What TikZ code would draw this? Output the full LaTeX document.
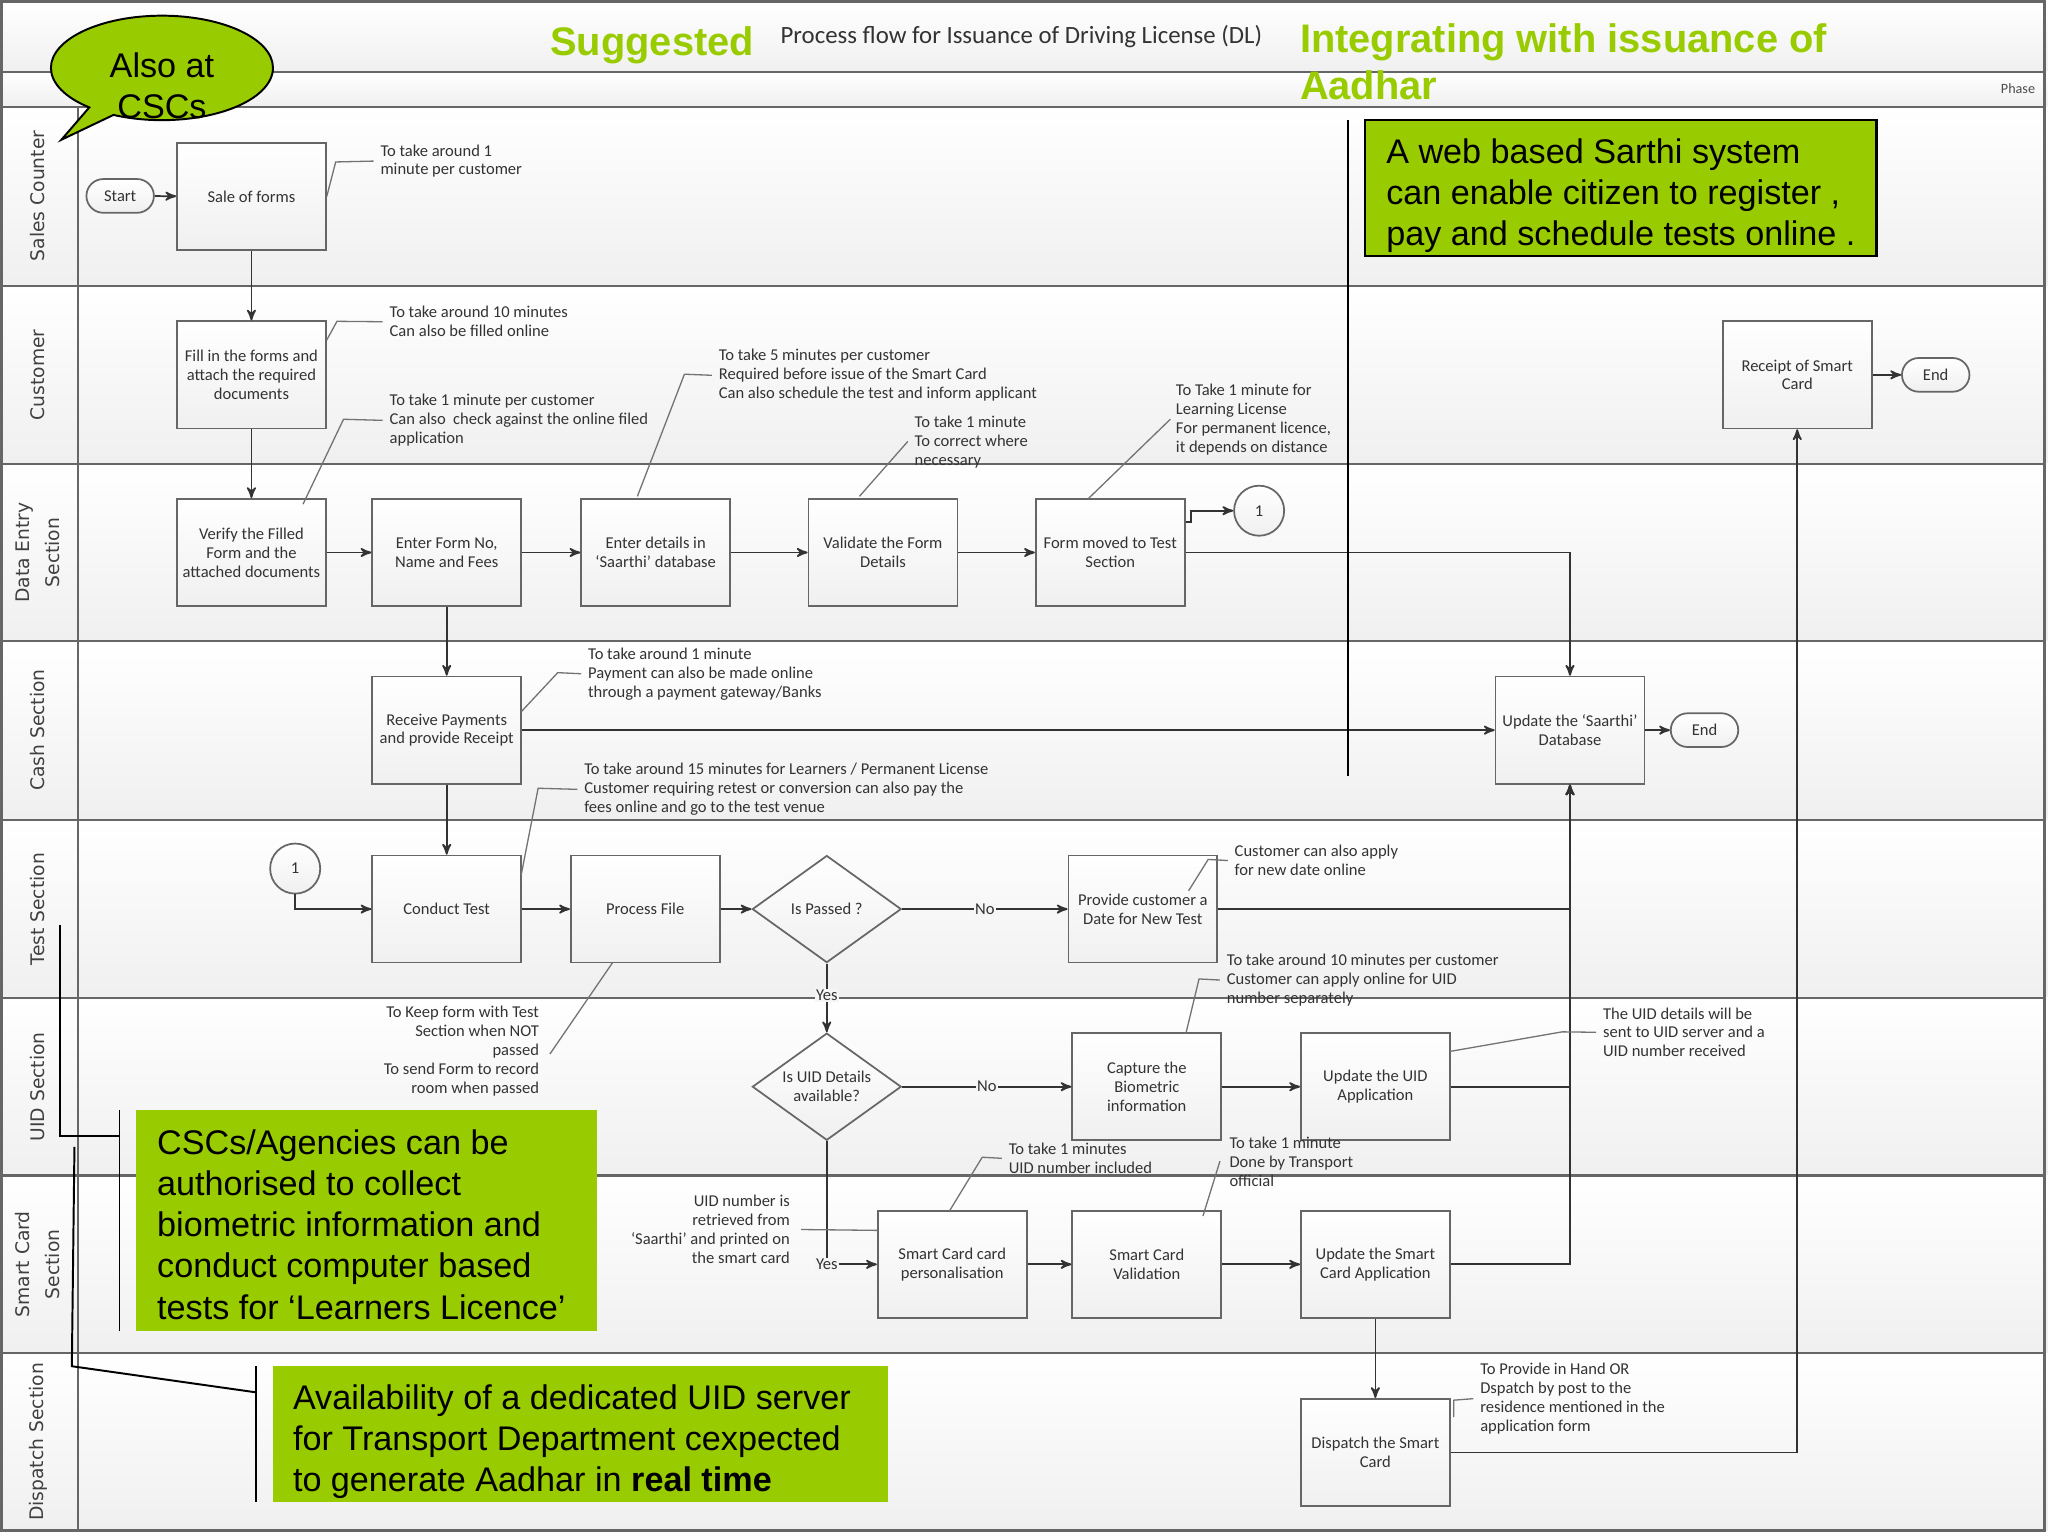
\documentclass[tikz,border=0pt]{standalone}
\usepackage{fontspec}
\setmainfont{Carlito}
\newfontfamily\arialfont{Liberation Sans}
\newfontfamily\lanefont{DejaVu Sans}
\usetikzlibrary{arrows,arrows.meta}
\usetikzlibrary{shapes.geometric,shapes.misc,shapes.callouts}
\definecolor{leaf}{HTML}{99CC00}

\begin{document}
\begin{tikzpicture}[x = 0.6pt, y = -0.6pt, >=stealth',
    box/.style = {draw = black!60, line width = 0.8pt, top color = white, bottom color = black!6, minimum width = 68.4pt, minimum height = 49.2pt, inner sep = 1pt, align = center, text = black!80, font = \fontsize{7.6}{8.7}\selectfont},
    decision/.style = {box, diamond, aspect = 1.4, inner sep = 0pt},
    term/.style = {box, rounded rectangle, minimum width = 33pt, minimum height = 15.5pt},
    joint/.style = {box, circle, minimum width = 23pt, minimum height = 23pt},
    flow/.style = {->, draw = black!80, line width = 0.8pt},
    leader/.style = {draw = black!55, line width = 0.6pt},
    note/.style = {inner sep = 0pt, yshift = -0.5pt, align = left, text = black!80, font = \fontsize{7.6}{8.7}\selectfont},
    noter/.style = {note, align = right},
    tag/.style = {inner sep = 0.5pt, fill = white!96!black, text = black!80, font = \fontsize{7.6}{8.7}\selectfont},
    lane/.style = {rotate = 90, inner sep = 0pt, align = center, text = black!75, font = \lanefont\fontsize{8.6}{13.8}\selectfont},
    panel/.style = {fill = leaf, inner sep = 0pt, outer sep = 0pt},
    panelt/.style = {inner sep = 0pt, anchor = west, align = left, text = black, font = \arialfont\fontsize{15.7}{18.9}\selectfont},
    head/.style = {inner sep = 0pt, anchor = west, align = left, text = leaf, font = \arialfont\bfseries\fontsize{18.3}{21.6}\selectfont},
    blackline/.style = {draw = black, line width = 0.9pt}]

    \useasboundingbox (0, 0) rectangle (1568, 1176);

    % Fondo de las franjas:
    \foreach \yA/\yB in {1/55, 55/82, 82/219, 219/355, 355/491, 491/628, 628/764, 764/900, 900/1036, 1036/1172}
        \shade[top color = white, bottom color = black!6] (0, \yA) rectangle (1568, \yB);
    \foreach \yA in {55, 82, 219, 355, 491, 628, 764, 900, 1036}
        \draw[black!60, line width = 1pt] (0, \yA) -- (1565, \yA);
    \draw[black!60, line width = 1.4pt] (1, 1) rectangle (1565, 1172);
    \draw[black!60, line width = 1pt] (60, 82) -- (60, 1172);

    % Nombres de las franjas:
    \foreach \yL/\nm/\txt in {150/sales/{Sales Counter}, 287/customer/{Customer}, 423/data/{Data Entry\\Section}, 559/cash/{Cash Section}, 696/test/{Test Section}, 832/uid/{UID Section}, 968/smart/{Smart Card\\Section}, 1104/dispatch/{Dispatch Section}}
        \node[lane] (lane\nm) at (29, \yL) {\txt};

    % Titulo:
    \node[inner sep = 0pt, text = black!80, font = \fontsize{11.4}{13}\selectfont] (title) at (782, 28) {Process flow for Issuance of Driving License (DL)};
    \node[inner sep = 0pt, text = black!70, font = \fontsize{6.5}{8}\selectfont] (phase) at (1545, 68) {Phase};

    % Cajas del proceso:
    \node[term] (start) at (92, 150) {Start};
    \node[box] (sale) at (192.5, 150.5) {Sale of forms};
    \node[box] (fill) at (192.5, 287) {Fill in the forms and\\attach the required\\documents};
    \node[box] (verify) at (192.5, 423) {Verify the Filled\\Form and the\\attached documents};
    \node[box] (enter) at (342, 423) {Enter Form No,\\Name and Fees};
    \node[box] (details) at (502, 423) {Enter details in\\‘Saarthi’ database};
    \node[box] (validate) at (676, 423) {Validate the Form\\Details};
    \node[box] (moved) at (850, 423) {Form moved to Test\\Section};
    \node[joint] (jointA) at (964, 391) {1};
    \node[box] (receive) at (342, 559) {Receive Payments\\and provide Receipt};
    \node[box] (saarthi) at (1202, 559) {Update the ‘Saarthi’\\Database};
    \node[term] (endB) at (1305, 559) {End};
    \node[joint] (jointB) at (226, 665) {1};
    \node[box] (conduct) at (342, 696) {Conduct Test};
    \node[box] (process) at (494, 696) {Process File};
    \node[decision] (passed) at (633, 696) {Is Passed ?};
    \node[box] (provide) at (875, 696) {Provide customer a\\Date for New Test};
    \node[decision] (hasuid) at (633, 832) {Is UID Details\\available?};
    \node[box] (capture) at (878, 832) {Capture the\\Biometric\\information};
    \node[box] (upduid) at (1053, 832) {Update the UID\\Application};
    \node[box] (person) at (729, 968) {Smart Card card\\personalisation};
    \node[box] (check) at (878, 968) {Smart Card\\Validation};
    \node[box] (updcard) at (1053, 968) {Update the Smart\\Card Application};
    \node[box] (send) at (1053, 1112) {Dispatch the Smart\\Card};
    \node[box] (receipt) at (1376, 287) {Receipt of Smart\\Card};
    \node[term] (endA) at (1482, 287) {End};

    % Conectores:
    \draw[flow] (start) -- (sale);
    \draw[flow] (sale) -- (fill);
    \draw[flow] (fill) -- (verify);
    \draw[flow] (verify) -- (enter);
    \draw[flow] (enter) -- (details);
    \draw[flow] (details) -- (validate);
    \draw[flow] (validate) -- (moved);
    \draw[flow] ([yshift = 14pt]moved.east) -- ++(4, 0) |- (jointA);
    \draw[flow] (moved) -| (saarthi);
    \draw[flow] (enter) -- (receive);
    \draw[flow] (receive) -- (saarthi);
    \draw[flow] (saarthi) -- (endB);
    \draw[flow] (receive) -- (conduct);
    \draw[flow] (jointB) |- (conduct);
    \draw[flow] (conduct) -- (process);
    \draw[flow] (process) -- (passed);
    \draw[flow] (passed) -- node[tag] (tagNoA) {No} (provide);
    \draw[flow] (provide) -| (saarthi);
    \draw[flow] (passed) -- node[tag, pos = 0.46] (tagYesA) {Yes} (hasuid);
    \draw[flow] (hasuid) -- node[tag] (tagNoB) {No} (capture);
    \draw[flow] (capture) -- (upduid);
    \draw[flow] (upduid) -| (saarthi);
    \draw[flow] (hasuid) |- node[tag, pos = 0.5] (tagYesB) {Yes} (person);
    \draw[flow] (person) -- (check);
    \draw[flow] (check) -- (updcard);
    \draw[flow] (updcard) -| (saarthi);
    \draw[flow] (updcard) -- (send);
    \draw[flow] (send) -| (receipt);
    \draw[flow] (receipt) -- (endA);

    % Notas:
    \node[note, anchor = west] (nSale) at (291, 122.5) {To take around 1\\minute per customer};
    \draw[leader] (sale.east) -- (257, 124) -- ([xshift = -3pt]nSale.west);
    \node[note, anchor = west] (nFill) at (298, 245.5) {To take around 10 minutes\\Can also be filled online};
    \draw[leader] ([yshift = 16pt]fill.east) -- (258, 246) -- ([xshift = -3pt]nFill.west);
    \node[note, anchor = west] (nVerify) at (298, 321) {To take 1 minute per customer\\Can also\ \ check against the online filed\\application};
    \draw[leader] (232, 386) -- (263, 321) -- ([xshift = -3pt]nVerify.west);
    \node[note, anchor = west] (nDetails) at (550, 286.5) {To take 5 minutes per customer\\Required before issue of the Smart Card\\Can also schedule the test and inform applicant};
    \draw[leader] (488, 380) -- (524, 286.5) -- ([xshift = -3pt]nDetails.west);
    \node[note, anchor = west] (nValidate) at (700, 337.5) {To take 1 minute\\To correct where\\necessary};
    \draw[leader] (658, 380) -- (695, 338);
    \node[note, anchor = west] (nMoved) at (900, 320.5) {To Take 1 minute for\\Learning License\\For permanent licence,\\it depends on distance};
    \draw[leader] (833, 382) -- (896, 321);
    \node[note, anchor = west] (nReceive) at (450, 515) {To take around 1 minute\\Payment can also be made online\\through a payment gateway/Banks};
    \draw[leader] (399, 545) -- (427, 515) -- ([xshift = -3pt]nReceive.west);
    \node[note, anchor = west] (nConduct) at (447, 603.5) {To take around 15 minutes for Learners / Permanent License\\Customer requiring retest or conversion can also pay the\\fees online and go to the test venue};
    \draw[leader] (399, 670) -- (412, 603.5) -- ([xshift = -3pt]nConduct.west);
    \node[note, anchor = west] (nProvide) at (945, 658) {Customer can also apply\\for new date online};
    \draw[leader] (910, 682) -- (925, 658) -- ([xshift = -3pt]nProvide.west);
    \node[noter, anchor = east] (nProcess) at (413, 804) {To Keep form with Test\\Section when NOT\\passed\\To send Form to record\\room when passed};
    \draw[leader] (469, 737) -- (421, 807);
    \node[note, anchor = west] (nCapture) at (939, 749.5) {To take around 10 minutes per customer\\Customer can apply online for UID\\number separately};
    \draw[leader] (908, 791) -- (918, 749.5) -- ([xshift = -3pt]nCapture.west);
    \node[note, anchor = west] (nUid) at (1227, 789.5) {The UID details will be\\sent to UID server and a\\UID number received};
    \draw[leader] (1110, 805) -- (1196, 790) -- ([xshift = -3pt]nUid.west);
    \node[note, anchor = west] (nPerson) at (772, 886) {To take 1 minutes\\UID number included};
    \draw[leader] (727, 927) -- (752, 886) -- ([xshift = -3pt]nPerson.west);
    \node[note, anchor = west] (nCheck) at (941, 889) {To take 1 minute\\Done by Transport\\official};
    \draw[leader] (921, 931) -- (934, 889);
    \node[noter, anchor = east] (nRetrieve) at (605, 940.5) {UID number is\\retrieved from\\‘Saarthi’ and printed on\\the smart card};
    \draw[leader] ([xshift = 5pt]nRetrieve.east) -- (672, 942);
    \node[note, anchor = west] (nSend) at (1133, 1070) {To Provide in Hand OR\\Dspatch by post to the\\residence mentioned in the\\application form};
    \draw[leader] (1113, 1085) -- (1113, 1072) -- ([xshift = -3pt]nSend.west);

    % Encabezados verdes:
    \node[head] (suggested) at (421, 35) {Suggested};
    \node[head] (integrating) at (995, 47) {Integrating with issuance of\\Aadhar};

    % Globo:
    \node[ellipse callout, draw = black, line width = 0.9pt, fill = leaf, minimum width = 102pt, minimum height = 48pt, callout absolute pointer = {(47, 107)}] (bubble) at (124, 52) {};
    \node[inner sep = 0pt, align = center, text = black, font = \arialfont\fontsize{15.7}{18.6}\selectfont] (bubbleText) at (124, 65.5) {Also at\\CSCs};

    % Paneles y sus marcas:
    \draw[blackline] (1032, 92) coordinate (webTop) -- (1032, 594) coordinate (webEnd);
    \node[panel, draw = black, line width = 1.2pt, minimum width = 235pt, minimum height = 62.4pt] (webBox) at (1241, 144) {};
    \node[panelt] (webText) at (1061, 150) {A web based Sarthi system\\can enable citizen to register ,\\pay and schedule tests online .};

    \node[panel, minimum width = 212pt, minimum height = 101.4pt] (cscBox) at (280.5, 934.5) {};
    \node[panelt] (cscText) at (120, 937.5) {CSCs/Agencies can be\\authorised to collect\\biometric information and\\conduct computer based\\tests for ‘Learners Licence’};
    \draw[blackline] (91.5, 850) coordinate (cscTop) -- (91.5, 1019) coordinate (cscEnd);
    \draw[blackline] (46, 708) coordinate (cscFrom) -- (46, 869.5) -- (91.5, 869.5) coordinate (cscTo);

    \node[panel, minimum width = 282.6pt, minimum height = 62.4pt] (srvBox) at (444.5, 1098) {};
    \node[panelt] (srvText) at (224, 1104) {Availability of a dedicated UID server\\for Transport Department cexpected\\to generate Aadhar in \textbf{real time}};
    \draw[blackline] (196, 1046) coordinate (srvTop) -- (196, 1150) coordinate (srvEnd);
    \draw[blackline] (57, 878) coordinate (srvFrom) -- (55, 1046) -- (196, 1066) coordinate (srvTo);

\end{tikzpicture}
\end{document}
